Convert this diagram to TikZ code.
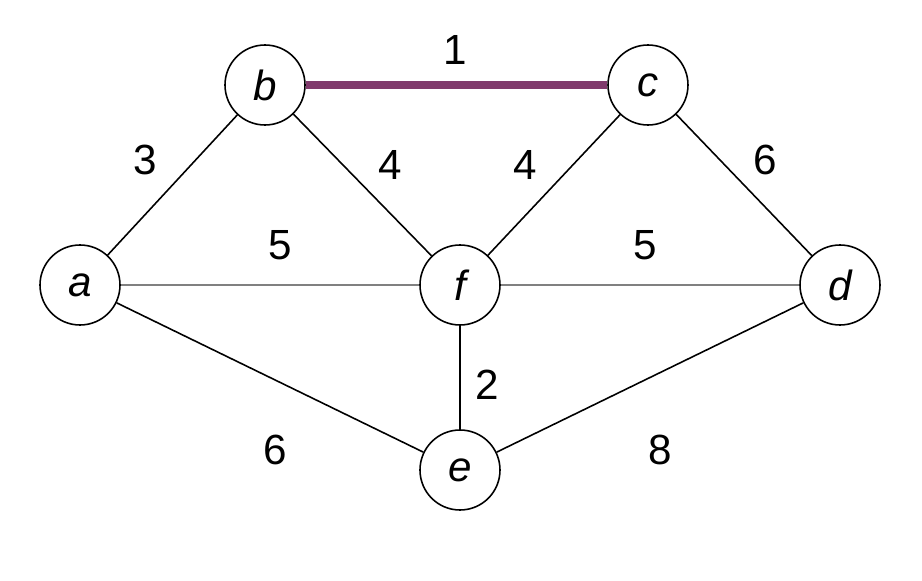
\documentclass[tikz,border=0pt]{standalone}
\usepackage{fontspec}
\setmainfont{Liberation Sans}
\definecolor{mst}{RGB}{128,58,108}
\begin{document}
\begin{tikzpicture}[
  vtx/.style={circle,draw,line width=0.9pt,minimum size=1.6cm,inner sep=0pt,font=\fontsize{24}{28}\selectfont\itshape,fill=white},
  lbl/.style={font=\fontsize{24}{28}\selectfont},
  edge/.style={line width=0.9pt}]
\useasboundingbox (0,0) rectangle (18.44,11.6);
\node[vtx] (b) at (5.3,9.9) {b};
\node[vtx] (c) at (12.96,9.9) {c};
\node[vtx] (a) at (1.6,5.9) {a};
\node[vtx] (f) at (9.2,5.9) {f};
\node[vtx] (d) at (16.8,5.9) {d};
\node[vtx] (e) at (9.2,2.2) {e};
\draw[mst,line width=4.5pt] (b) -- (c);
\draw[edge] (a) -- (b);
\draw[edge] (b) -- (f);
\draw[edge] (c) -- (f);
\draw[edge] (c) -- (d);
\draw[edge,gray] (a) -- (f);
\draw[edge,gray] (f) -- (d);
\draw[edge] (f) -- (e);
\draw[edge] (a) -- (e);
\draw[edge] (e) -- (d);
\node[lbl] (l1) at (9.1,10.6) {1};
\node[lbl] (l2) at (2.9,8.4) {3};
\node[lbl] (l3) at (7.8,8.3) {4};
\node[lbl] (l4) at (10.5,8.3) {4};
\node[lbl] (l5) at (15.3,8.4) {6};
\node[lbl] (l6) at (5.6,6.7) {5};
\node[lbl] (l7) at (12.9,6.7) {5};
\node[lbl] (l8) at (9.74,3.9) {2};
\node[lbl] (l9) at (5.5,2.6) {6};
\node[lbl] (l10) at (13.2,2.6) {8};
\end{tikzpicture}
\end{document}
